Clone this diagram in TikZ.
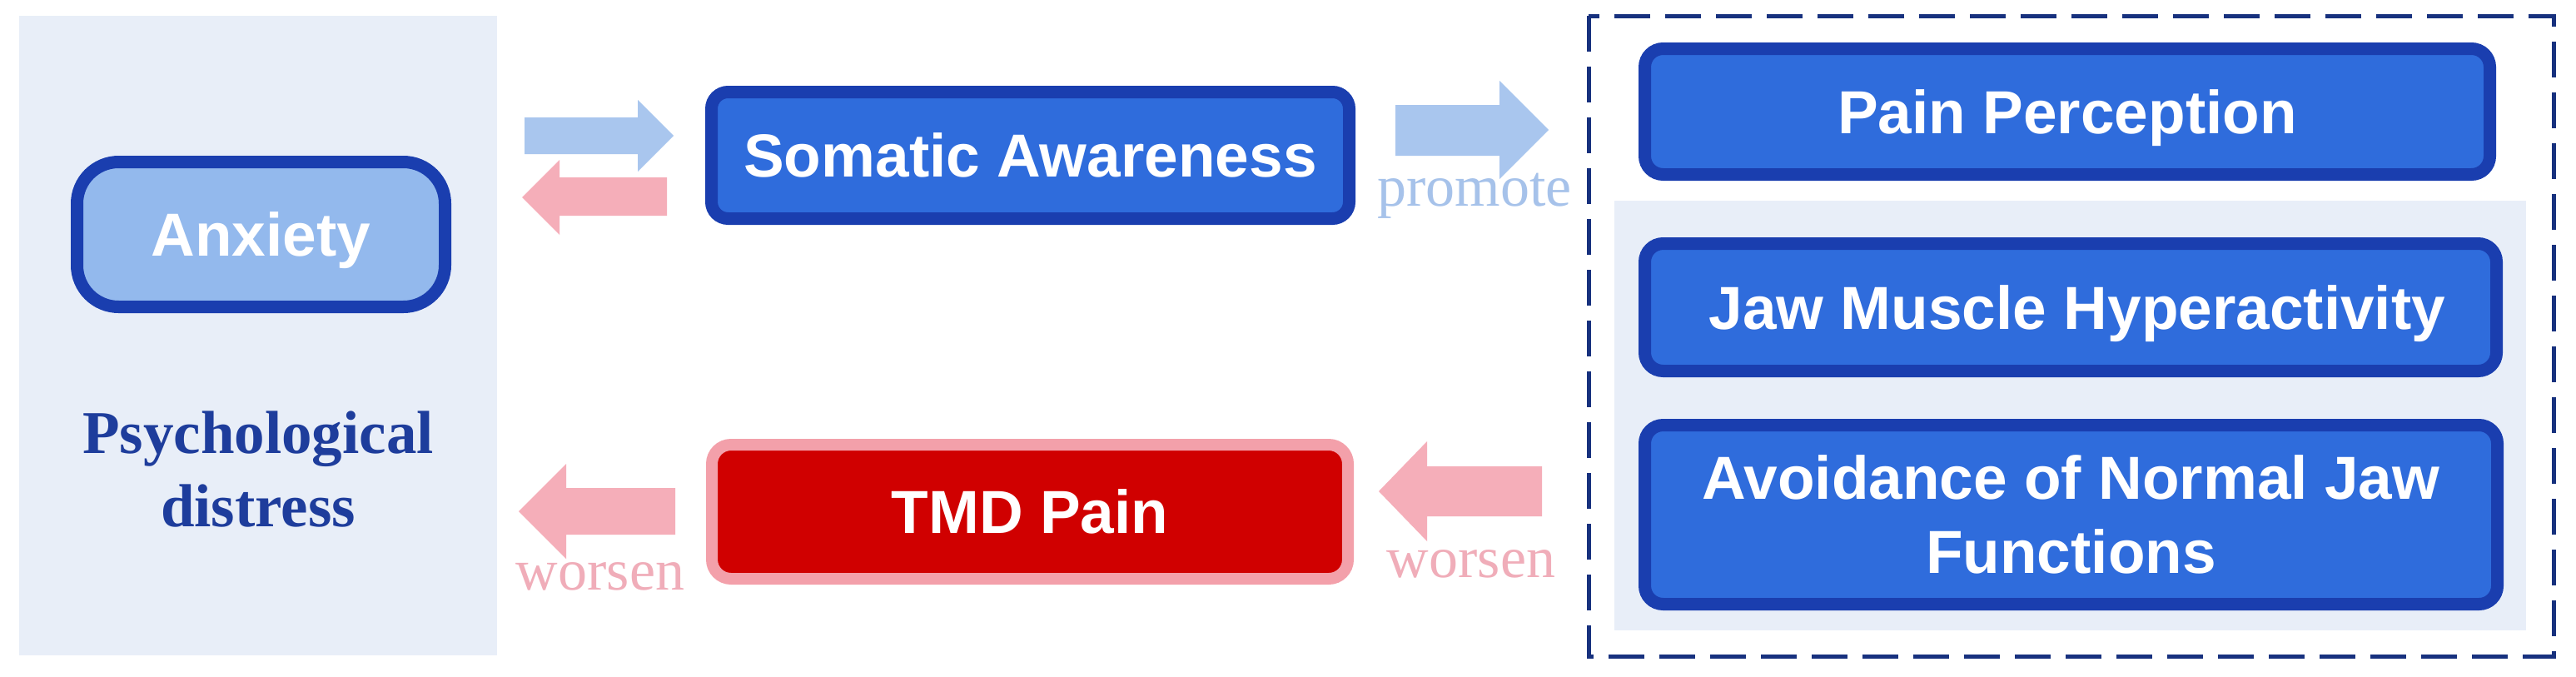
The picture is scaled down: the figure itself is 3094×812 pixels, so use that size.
\documentclass[tikz,border=0pt]{standalone}
\usepackage{fontspec}
\setmainfont{Liberation Serif}
\setsansfont{Liberation Sans}
\definecolor{bgpanel}{HTML}{E8EEF8}
\definecolor{boxfill}{HTML}{2F6CDC}
\definecolor{boxborder}{HTML}{1A3EAF}
\definecolor{anxfill}{HTML}{93B9ED}
\definecolor{arrowblue}{HTML}{A9C6EE}
\definecolor{arrowpink}{HTML}{F5AEB9}
\definecolor{promoteblue}{HTML}{A6C2EA}
\definecolor{worsenpink}{HTML}{F0ADB9}
\definecolor{psyblue}{HTML}{1E3D9C}
\definecolor{dashblue}{HTML}{17317E}
\definecolor{tmdred}{HTML}{D00000}
\definecolor{tmdborder}{HTML}{F3A0AA}
\begin{document}
\begin{tikzpicture}[x=1pt,y=-1pt,
  box/.style={rectangle, rounded corners=20pt, draw=boxborder, fill=boxfill, line width=15pt,
    text=white, font=\sffamily\bfseries\fontsize{73}{89}\selectfont, inner sep=0pt},
  oneline/.style={text height=52pt, text depth=0pt},
  psy/.style={text=psyblue, font=\rmfamily\bfseries\fontsize{73}{88}\selectfont, inner sep=0pt},
  lbl/.style={font=\rmfamily\fontsize{70}{80}\selectfont, inner sep=0pt},
  dashbox/.style={draw=dashblue, line width=5pt, dash pattern=on 43pt off 18pt}
]
\useasboundingbox (0,0) rectangle (3094,812);
\fill[white] (0,0) rectangle (3094,812);

% background panels
\fill[bgpanel] (23,19) rectangle (597,787);
\fill[bgpanel] (1939,241) rectangle (3034,757);
\draw[dashbox] (1908,19) rectangle (3067,788);

% boxes
\node[box, fill=anxfill, rounded corners=50pt, minimum width=442pt, minimum height=174pt, oneline] (anx) at (313.5,281.5) {Anxiety};
\node[box, minimum width=766pt, minimum height=152pt, oneline] (som) at (1237.5,186.5) {Somatic Awareness};
\node[box, draw=tmdborder, fill=tmdred, line width=14pt, rounded corners=23pt, minimum width=764pt, minimum height=161pt, oneline] (tmd) at (1237,614.5) {TMD Pain};
\node[box, rounded corners=22pt, minimum width=1015pt, minimum height=151pt, oneline] (pp) at (2483,134) {Pain Perception};
\node[box, rounded corners=22pt, minimum width=1023pt, minimum height=153pt, oneline] (jaw) at (2487,369) {\hspace*{16pt}Jaw Muscle Hyperactivity};
\node[box, rounded corners=22pt, minimum width=1024pt, minimum height=215pt, align=center] (avo) at (2487.5,618) {Avoidance of Normal Jaw\\Functions};

% psychological distress
\node[psy, anchor=base] (psy1) at (310,544) {Psychological};
\node[psy, anchor=base] (psy2) at (310,632) {distress};

% block arrows
\fill[arrowblue] (630,141) -- (766,141) -- (766,120) -- (809,163) -- (766,206) -- (766,185) -- (630,185) -- cycle;
\fill[arrowpink] (801,213) -- (672,213) -- (672,192) -- (627,237) -- (672,282) -- (672,259) -- (801,259) -- cycle;
\fill[arrowblue] (1676,126) -- (1801,126) -- (1801,97) -- (1860,156) -- (1801,215) -- (1801,187) -- (1676,187) -- cycle;
\fill[arrowpink] (811,586) -- (680,586) -- (680,557) -- (623,614) -- (680,671) -- (680,642) -- (811,642) -- cycle;
\fill[arrowpink] (1852,560) -- (1714,560) -- (1714,530) -- (1656,590) -- (1714,650) -- (1714,620) -- (1852,620) -- cycle;

% labels
\node[lbl, text=promoteblue, anchor=base] (promote) at (1771,247) {promote};
\node[lbl, text=worsenpink, anchor=base] (worsen1) at (721,708) {worsen};
\node[lbl, text=worsenpink, anchor=base] (worsen2) at (1767,693) {worsen};
\end{tikzpicture}
\end{document}
